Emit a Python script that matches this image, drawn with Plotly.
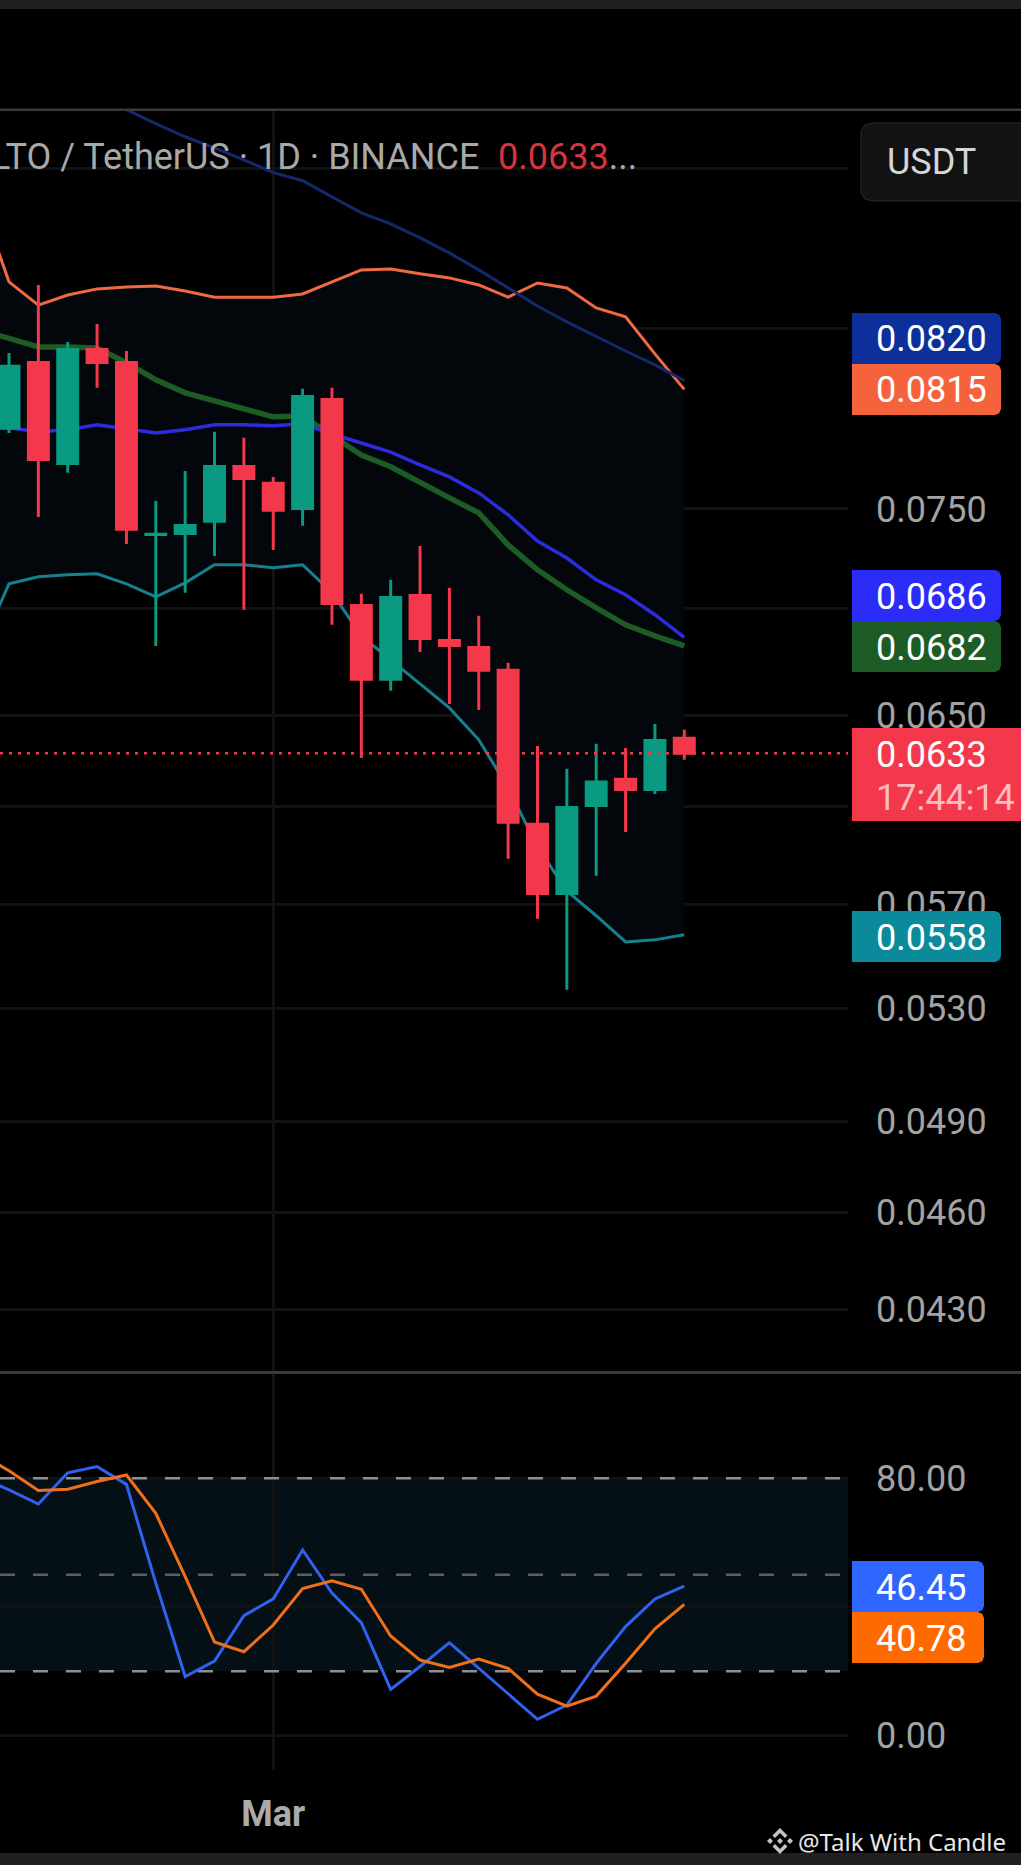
import pandas as pd
import plotly.graph_objects as go

W, H = 1021, 1865
PLOT_RIGHT = 848
MAIN_TOP, MAIN_BOTTOM = 110, 1372
OSC_TOP, OSC_BOTTOM = 1373, 1770

# Daily candles, first entry is 20 Feb
dates = pd.date_range("2025-02-20", periods=24, freq="D")
opens = [.07932, .08304, .07741, .08379, .08304, .07368, .07374, .07436, .07725, .07635, .07503, .08093,
         .07014, .06663, .07063, .06845, .06812, .06705, .06025, .05742, .06104, .06216, .06172, .06396]
highs = [.08359, .08763, .08423, .08529, .08370, .07542, .07701, .07913, .07880, .07669, .08153, .08159,
         .07071, .07140, .07310, .07101, .06964, .06740, .06362, .06262, .06371, .06353, .06460, .06434]
lows = [.07907, .07459, .07691, .08159, .07320, .06819, .07076, .07259, .06993, .07289, .07413, .06920,
        .06309, .06610, .06791, .06550, .06523, .05882, .05642, .05371, .05813, .05993, .06153, .06301]
closes = [.08282, .07762, .08379, .08304, .07395, .07370, .07415, .07725, .07661, .07493, .08110, .07024,
          .06663, .07053, .06855, .06821, .06705, .06033, .05742, .06096, .06204, .06172, .06386, .0633]

# Indicator series start one day before the first visible candle
line_dates = pd.date_range("2025-02-19", periods=25, freq="D")
bb_upper = [.09309, .08782, .08641, .08702, .08739, .08751, .08757, .08726, .08689, .08689, .08689, .08708, .08782,
            .08855, .08861, .08831, .08806, .08763, .08689, .08775, .08745, .08624, .08571, .08353, .0815]
bb_lower = [.06800, .07120, .07155, .07165, .07170, .07120, .07056, .07125, .07215, .07215, .07200, .07215, .07076,
            .06867, .06754, .06642, .06532, .06389, .06179, .05931, .05752, .05654, .05552, .05560, .0558]
bb_basis = [.07935, .07935, .07913, .07924, .07952, .07929, .07907, .07924, .07952, .07952, .07946, .07957, .07901,
            .07852, .07802, .07733, .07669, .07584, .07470, .07335, .07249, .07140, .07066, .06969, .0686]
ma_fast = [.08494, .08447, .08394, .08394, .08388, .08302, .08204, .08130, .08084, .08046, .07996, .08001, .07896,
           .07786, .07723, .07637, .07558, .07480, .07315, .07190, .07091, .07002, .06920, .06867, .0682]
ma_slow_dates = dates[3:]
ma_slow = [.09985, .09897, .09802, .09713, .09639, .09559, .09474, .09421, .09316, .09213, .09143, .09054,
           .08960, .08855, .08745, .08636, .08541, .08453, .08370, .08290, .0820]

stoch_k = [80.5, 76.4, 72.0, 81.7, 83.6, 78.1, 47.4, 18.4, 23.2, 37.3, 42.5, 57.7, 44.3,
           35.1, 14.4, 21.5, 28.9, 20.9, 13.2, 5.1, 9.5, 22.5, 33.9, 42.5, 46.45]
stoch_d = [87.8, 82.3, 76.2, 76.6, 79.0, 81.0, 69.1, 49.4, 29.1, 26.1, 34.4, 45.7, 48.1,
           45.5, 31.0, 23.5, 21.2, 23.8, 20.9, 12.9, 9.2, 12.3, 22.5, 33.2, 40.78]

price_ticks = [.095, .085, .075, .07, .065, .061, .057, .053, .049, .046, .043]
hidden_ticks = {.095, .085, .07, .061}
price_labels = ["" if v in hidden_ticks else f"{v:.4f}" for v in price_ticks]
osc_ticks = [80, 40, 0]
osc_labels = ["80.00", "", "0.00"]
osc_bands = [80, 50, 20]

GREEN, RED = "#0a9a82", "#f4384b"
GRID = "#101213"
FONT = "Roboto, sans-serif"
AXIS_TEXT = "#a3a3a3"


def px(x):
    return x / W


def py(y):
    return 1 - y / H


def poly(points, fill, line=None, layer="above"):
    path = "M" + " L".join(f"{px(x):.5f},{py(y):.5f}" for x, y in points) + " Z"
    return dict(type="path", xref="paper", yref="paper", path=path, fillcolor=fill,
                line=dict(color=line or fill, width=1 if line else 0), layer=layer)


def band(y0, y1, fill):
    return dict(type="rect", xref="paper", yref="paper", x0=0, x1=1, y0=py(y1), y1=py(y0), fillcolor=fill,
                line=dict(width=0), layer="above")


def badge(x0, x1, y0, y1, fill, r=6):
    # Square on the axis side, rounded towards the right
    steps = [(x0, y0), (x1 - r, y0), (x1 - r * .3, y0 + r * .3), (x1, y0 + r), (x1, y1 - r),
             (x1 - r * .3, y1 - r * .3), (x1 - r, y1), (x0, y1)]
    return poly(steps, fill)


x_start = dates[0] - pd.Timedelta(days=0.3065)
x_end = dates[0] + pd.Timedelta(days=28.576)

fig = go.Figure()

# Bollinger band, filled between its outer lines
fig.add_trace(go.Scatter(x=line_dates, y=bb_upper, mode="lines", line=dict(color="#ef6a42", width=3)))
fig.add_trace(go.Scatter(x=line_dates, y=bb_lower, mode="lines", line=dict(color="#17808f", width=3),
                         fill="tonexty", fillcolor="#03070b"))
fig.add_trace(go.Scatter(x=ma_slow_dates, y=ma_slow, mode="lines", line=dict(color="#13296b", width=3)))
fig.add_trace(go.Scatter(x=line_dates, y=ma_fast, mode="lines", line=dict(color="#1d5c24", width=5.5)))
fig.add_trace(go.Scatter(x=line_dates, y=bb_basis, mode="lines", line=dict(color="#2c2cdc", width=3.5)))

# Candles sit on an overlay axis so they paint above the indicator lines
fig.add_trace(go.Candlestick(
    x=dates, open=opens, high=highs, low=lows, close=closes, yaxis="y3",
    increasing=dict(line=dict(color=GREEN, width=3), fillcolor=GREEN),
    decreasing=dict(line=dict(color=RED, width=3), fillcolor=RED),
))
fig.add_trace(go.Scatter(x=[x_start, x_end], y=[closes[-1]] * 2, mode="lines", yaxis="y3",
                         line=dict(color="#f4384b", width=2.5, dash="3px,6px")))

# Oscillator pane: dashed band levels first, then the two series
for level, colour in zip(osc_bands, ("#8b9094", "#5b6065", "#8b9094")):
    fig.add_trace(go.Scatter(x=[x_start, x_end], y=[level] * 2, mode="lines", xaxis="x2", yaxis="y2",
                             line=dict(color=colour, width=2.5, dash="15px,18px")))
fig.add_trace(go.Scatter(x=line_dates, y=stoch_k, mode="lines", xaxis="x2", yaxis="y2",
                         line=dict(color="#2f62ee", width=3)))
fig.add_trace(go.Scatter(x=line_dates, y=stoch_d, mode="lines", xaxis="x2", yaxis="y2",
                         line=dict(color="#f0701a", width=3)))

shapes = [
    dict(type="rect", xref="x2 domain", yref="y2", x0=0, x1=1, y0=osc_bands[2], y1=osc_bands[0],
         fillcolor="#050f16", line=dict(width=0), layer="below"),
]

# Window chrome and pane separators
shapes += [band(0, 9, "#202020"), band(1853, H, "#202020"), band(108.5, 111, "#3a3a3a"), band(1371, 1374, "#3a3a3a")]

# Currency button
shapes.append(poly([(1025, 123), (873, 123), (865, 125), (861, 131), (861, 193), (865, 199), (873, 201), (1025, 201)],
                   "#121212", line="#2b2b2b"))

# Axis badges
badges = [
    (f"{ma_slow[-1]:.4f}", 852, 1001, 313, 364, "#0c2f9a"),
    (f"{bb_upper[-1]:.4f}", 852, 1001, 364, 415, "#f4633b"),
    (f"{bb_basis[-1]:.4f}", 852, 1001, 570, 621, "#2c2cf8"),
    (f"{ma_fast[-1]:.4f}", 852, 1001, 621, 672, "#1d5c24"),
    (f"{bb_lower[-1]:.4f}", 852, 1001, 911, 962, "#0b8a9c"),
    (f"{stoch_k[-1]:.2f}", 852, 984, 1561, 1612, "#2f66ff"),
    (f"{stoch_d[-1]:.2f}", 852, 984, 1612, 1663, "#ff6a00"),
]
annotations = []


def text(x, y, s, colour, size=36, anchor="left", family=FONT):
    annotations.append(dict(xref="paper", yref="paper", x=px(x), y=py(y), text=s, showarrow=False,
                            xanchor=anchor, yanchor="middle", align="left",
                            font=dict(family=family, size=size, color=colour)))


for label, x0, x1, y0, y1, fill in badges:
    shapes.append(badge(x0, x1, y0, y1, fill))
    text(874, (y0 + y1) / 2 + 1, label, "#ffffff")

# Last price badge with countdown
shapes.append(poly([(852, 728), (1021, 728), (1021, 821), (852, 821)], "#f4384b"))
text(874, 755, f"{closes[-1]:.4f}", "#ffffff")
text(874, 798, "17:44:14", "#fbbcc2")

# Header
text(481, 157, "LTO / TetherUS · 1D · BINANCE", "#a9a9a9", anchor="right")
text(496, 157, f'<span style="color:#d8343f">{closes[-1]:.4f}</span>...', "#a9a9a9")
text(885, 162, "USDT", "#d6d6d6")

# Watermark with the exchange mark
text(796, 1841, "@Talk With Candle", "#e8e8e8", size=24, family="Noto Sans, sans-serif")
cx, cy = 780, 1841
mark = [
    [(0, -13), (7.5, -5.5), (5, -3), (0, -8), (-5, -3), (-7.5, -5.5)],
    [(0, 13), (7.5, 5.5), (5, 3), (0, 8), (-5, 3), (-7.5, 5.5)],
    [(-13, 0), (-10, -3), (-7, 0), (-10, 3)],
    [(13, 0), (10, -3), (7, 0), (10, 3)],
    [(0, -3), (3, 0), (0, 3), (-3, 0)],
]
for piece in mark:
    shapes.append(poly([(cx + a, cy + b) for a, b in piece], "#c4c4c4"))

mar_axis = dict(tickmode="array", tickvals=["2025-03-01"], showgrid=True, gridcolor=GRID, gridwidth=2.5,
                showline=False, zeroline=False, ticks="")
price_range = [-1.38529, -1.00457]

fig.update_layout(
    width=W, height=H, margin=dict(l=0, r=0, t=0, b=0), autosize=False,
    paper_bgcolor="#000000", plot_bgcolor="#000000", showlegend=False,
    boxmode="overlay", boxgap=0.32, boxgroupgap=0,
    font=dict(family=FONT),
    xaxis=dict(domain=[0, px(PLOT_RIGHT)], anchor="y", range=[x_start, x_end], type="date",
               rangeslider=dict(visible=False), ticktext=[""], showticklabels=False, **mar_axis),
    xaxis2=dict(domain=[0, px(PLOT_RIGHT)], anchor="y2", matches="x", type="date", ticktext=["Mar"],
                tickfont=dict(family=FONT, size=36, color="#ababab", weight="bold"),
                ticklabelstandoff=19, **mar_axis),
    yaxis=dict(domain=[py(MAIN_BOTTOM), py(MAIN_TOP)], anchor="x", type="log", range=price_range, side="right",
               tickmode="array", tickvals=price_ticks, ticktext=price_labels, showgrid=True, gridcolor=GRID,
               gridwidth=2.5, zeroline=False, ticks="", ticklabelstandoff=27,
               tickfont=dict(family=FONT, size=36, color=AXIS_TEXT)),
    yaxis3=dict(overlaying="y", type="log", range=price_range, side="right", visible=False),
    yaxis2=dict(domain=[py(OSC_BOTTOM), py(OSC_TOP)], anchor="x2", range=[-10.66, 112.7], side="right",
                tickmode="array", tickvals=osc_ticks, ticktext=osc_labels, showgrid=True, gridcolor=GRID,
                gridwidth=2.5, zeroline=False, ticks="", ticklabelstandoff=27,
                tickfont=dict(family=FONT, size=36, color=AXIS_TEXT)),
    shapes=shapes, annotations=annotations,
)

fig.write_html("out.html")
